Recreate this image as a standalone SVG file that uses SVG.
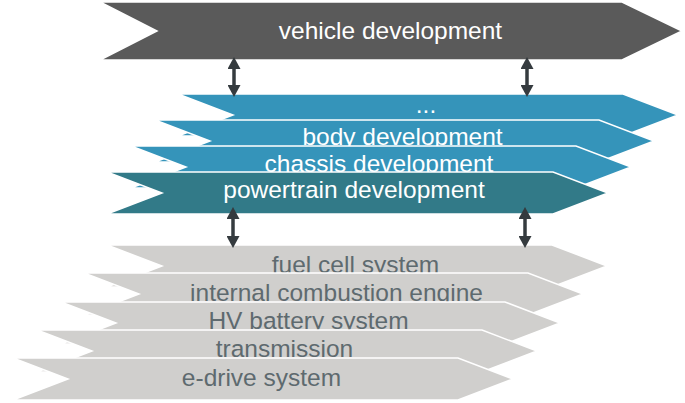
<svg xmlns="http://www.w3.org/2000/svg" width="685" height="403" viewBox="0 0 685 403">
<defs>
<style>
.shape{stroke:#ffffff;stroke-width:1.5;stroke-linejoin:miter}
.dark{fill:#5a5a5a}
.blue{fill:#3594ba}
.teal{fill:#327a88}
.gray{fill:#d0cfcd}
.lbl{font-family:"Liberation Sans",Arial,sans-serif;font-size:24.5px;text-anchor:middle}
.wt{fill:#ffffff}
.gt{fill:#5e6a6f}
.conn{stroke:#353b3f;stroke-width:3.5;fill:none}
</style>
<marker id="ah" viewBox="0 0 12 13" refX="2" refY="6.5" markerWidth="12" markerHeight="13" markerUnits="userSpaceOnUse" orient="auto-start-reverse">
<path d="M0,0 L12,6.5 L0,13 z" fill="#353b3f"/>
</marker>
</defs>
<rect width="685" height="403" fill="#ffffff"/>

<g id="vehicle-development">
<polygon class="shape dark" points="100,2 622,2 682,31 622,60 100,60 157,31"/>
<text class="lbl wt" x="390.5" y="38.5">vehicle development</text>
</g>

<g id="more-development">
<polygon class="shape blue" points="178,94 623,94 678,115 623,136 178,136 233,115"/>
<text class="lbl wt" x="426" y="112.5">...</text>
</g>
<g id="body-development">
<polygon class="shape blue" points="155,120 599,120 654,141 599,162 155,162 210,141"/>
<text class="lbl wt" x="402.5" y="144.5">body development</text>
</g>
<g id="chassis-development">
<polygon class="shape blue" points="131,146 576,146 631,167 576,188 131,188 186,167"/>
<text class="lbl wt" x="379" y="171.5">chassis development</text>
</g>
<g id="powertrain-development">
<polygon class="shape teal" points="107,172 553,172 608,193 553,214 107,214 162,193"/>
<text class="lbl wt" x="354" y="198">powertrain development</text>
</g>

<g id="fuel-cell-system">
<polygon class="shape gray" points="107,245 552,245 607,266 552,287 107,287 162,266"/>
<text class="lbl gt" x="355.5" y="272.5">fuel cell system</text>
</g>
<g id="internal-combustion-engine">
<polygon class="shape gray" points="84,273 528,273 583,294 528,315 84,315 139,294"/>
<text class="lbl gt" x="336.5" y="300.5">internal combustion engine</text>
</g>
<g id="hv-battery-system">
<polygon class="shape gray" points="61,302 505,302 560,323 505,344 61,344 116,323"/>
<text class="lbl gt" x="308.5" y="328.5">HV battery system</text>
</g>
<g id="transmission">
<polygon class="shape gray" points="37,330 482,330 537,351 482,372 37,372 92,351"/>
<text class="lbl gt" x="284.5" y="357">transmission</text>
</g>
<g id="e-drive-system">
<polygon class="shape gray" points="13,358 458,358 513,379 458,400 13,400 68,379"/>
<text class="lbl gt" x="261.5" y="386">e-drive system</text>
</g>

<g id="connectors">
<line class="conn" x1="234" y1="67" x2="234" y2="87" marker-start="url(#ah)" marker-end="url(#ah)"/>
<line class="conn" x1="527" y1="67" x2="527" y2="87" marker-start="url(#ah)" marker-end="url(#ah)"/>
<line class="conn" x1="233" y1="217" x2="233" y2="238" marker-start="url(#ah)" marker-end="url(#ah)"/>
<line class="conn" x1="525" y1="217" x2="525" y2="238" marker-start="url(#ah)" marker-end="url(#ah)"/>
</g>
</svg>
